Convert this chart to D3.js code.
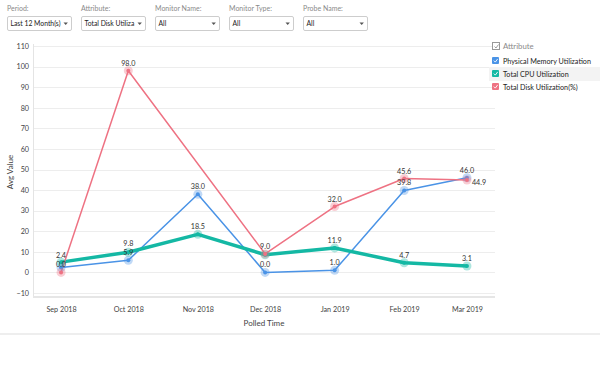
<!DOCTYPE html>
<html>
<head>
<meta charset="utf-8">
<script src="https://cdn.jsdelivr.net/npm/d3@7"></script>
<style>
  html, body { margin: 0; padding: 0; background: #fff; }
  svg { display: block; font-family: Lato, "Open Sans", "DejaVu Sans", sans-serif; }
</style>
</head>
<body>
<svg id="chart" width="600" height="375"></svg>
<script>
// ---- data ----
const months = ["2018-09-01","2018-10-01","2018-11-01","2018-12-01","2019-01-01","2019-02-01","2019-03-01"];
const seriesNames = ["Physical Memory Utilization", "Total CPU Utilization", "Total Disk Utilization(%)"];
const memoryValues = [2.4, 5.9, 38.0, 0.0, 1.0, 39.8, 46.0];
const cpuValues    = [5.0, 9.8, 18.5, 8.6, 11.9, 4.7, 3.1];
const diskValues   = [0.0, 98.0, null, 9.0, 32.0, 45.6, 44.9];
const yTicks = [-10, 0, 10, 20, 30, 40, 50, 60, 70, 80, 90, 100, 110];
const filterLabels = ["Period:", "Attribute:", "Monitor Name:", "Monitor Type:", "Probe Name:"];
const filterValues = ["Last 12 Month(s)", "Total Disk Utiliza", "All", "All", "All"];
// labels not shown (overlapping) and labels placed to the right
const hiddenLabels = ["Total CPU Utilization|0", "Total CPU Utilization|3"];
const rightLabels = ["Total Disk Utilization(%)|6"];

const colors = ["#4a93e6", "#14b8a4", "#ee7283"];
const widths = [1.5, 3.5, 1.5];

const svg = d3.select("#chart");
const parse = d3.timeParse("%Y-%m-%d");
const dates = months.map(parse);
const series = [memoryValues, cpuValues, diskValues].map((vals, i) => ({
  name: seriesNames[i], color: colors[i], width: widths[i],
  points: vals.map((v, j) => ({ date: dates[j], value: v, idx: j }))
}));

// ---- filter bar ----
const fg = svg.append("g");
filterLabels.forEach((lab, i) => {
  const x0 = 7 + i * 74;
  fg.append("text").attr("x", x0).attr("y", 11).attr("font-size", 7).attr("fill", "#8a8a8a").text(lab);
  fg.append("rect").attr("x", x0 + 0.5).attr("y", 16.5).attr("width", 64).attr("height", 14)
    .attr("rx", 1.5).attr("fill", "#fff").attr("stroke", "#cdcdcd");
  fg.append("text").attr("x", x0 + 3.5).attr("y", 26.3).attr("font-size", 6.8).attr("fill", "#222").text(filterValues[i]);
  fg.append("path").attr("d", `M${x0+56.5},22.5 l2.2,2.4 l2.2,-2.4 z`).attr("fill", "#555");
});

// ---- scales ----
const day = 24 * 3600 * 1000;
const x = d3.scaleTime()
  .domain([new Date(dates[0].getTime() - 12.5 * day), new Date(dates[6].getTime() + 12.5 * day)])
  .range([33, 495]);
const y = d3.scaleLinear().domain([-10, 110]).range([293, 46]);

// grid
const grid = svg.append("g");
grid.selectAll("line").data(yTicks).join("line")
  .attr("x1", 33).attr("x2", 495)
  .attr("y1", d => Math.round(y(d)) + 0.5).attr("y2", d => Math.round(y(d)) + 0.5)
  .attr("stroke", "#ededed");
svg.append("line").attr("x1", 33.5).attr("x2", 33.5).attr("y1", 44).attr("y2", 297).attr("stroke", "#e4e4e4");
svg.append("line").attr("x1", 33).attr("x2", 495).attr("y1", 297).attr("y2", 297).attr("stroke", "#e6e6e6").attr("stroke-width", 2);

// y axis
const yAxis = svg.append("g").attr("transform", "translate(29,0)")
  .call(d3.axisLeft(y).tickValues(yTicks).tickSize(0).tickPadding(0).tickFormat(d3.format("d")));
yAxis.select(".domain").remove();
yAxis.selectAll("text").attr("font-size", 7.2).attr("fill", "#444").attr("font-family", "Lato, sans-serif");

// x axis
const xAxis = svg.append("g").attr("transform", "translate(0,304)")
  .call(d3.axisBottom(x).tickValues(dates).tickSize(0).tickPadding(3).tickFormat(d3.timeFormat("%b %Y")));
xAxis.select(".domain").remove();
xAxis.selectAll("text").attr("font-size", 7.2).attr("fill", "#444").attr("font-family", "Lato, sans-serif");

// axis titles
svg.append("text").attr("transform", "translate(13,172) rotate(-90)").attr("text-anchor", "middle")
  .attr("font-size", 8).attr("fill", "#444").text("Avg Value");
svg.append("text").attr("x", 264).attr("y", 326).attr("text-anchor", "middle")
  .attr("font-size", 8).attr("fill", "#444").text("Polled Time");

// bottom separator
svg.append("line").attr("x1", 0).attr("x2", 600).attr("y1", 334).attr("y2", 334).attr("stroke", "#eeeeee").attr("stroke-width", 2);

// ---- lines ----
const line = d3.line().x(d => x(d.date)).y(d => y(d.value));
series.forEach(s => {
  const pts = s.points.filter(p => p.value !== null);
  svg.append("path").datum(pts).attr("d", line).attr("fill", "none")
    .attr("stroke", s.color).attr("stroke-width", s.width).attr("stroke-linejoin", "round");
});
series.forEach(s => {
  const pts = s.points.filter(p => p.value !== null);
  const g = svg.append("g");
  g.selectAll("circle.halo").data(pts).join("circle").attr("class", "halo")
    .attr("cx", d => x(d.date)).attr("cy", d => y(d.value)).attr("r", 4.5)
    .attr("fill", s.color).attr("fill-opacity", 0.35);
  g.selectAll("circle.dot").data(pts).join("circle").attr("class", "dot")
    .attr("cx", d => x(d.date)).attr("cy", d => y(d.value)).attr("r", 2)
    .attr("fill", s.color);
});

// ---- labels (simple vertical collision avoidance per date) ----
dates.forEach((dt, j) => {
  const items = [];
  series.forEach(s => {
    const p = s.points[j];
    if (p.value === null) return;
    const key = s.name + "|" + j;
    if (hiddenLabels.includes(key)) return;
    items.push({ p, right: rightLabels.includes(key) });
  });
  items.sort((a, b) => a.p.value - b.p.value);
  let prevBase = Infinity;
  items.forEach(it => {
    let bx = x(it.p.date), by, anchor = "middle";
    if (it.right) {
      bx += 5; by = y(it.p.value) + 5; anchor = "start";
    } else {
      by = y(it.p.value) - 5;
      if (by > prevBase - 9.5) by = prevBase - 9.5;
      prevBase = by;
    }
    svg.append("text").attr("x", bx).attr("y", by).attr("text-anchor", anchor)
      .attr("font-size", 7.2).attr("fill", "#333").text(d3.format(".1f")(it.p.value));
  });
});

// ---- legend ----
const lg = svg.append("g");
lg.append("rect").attr("x", 489).attr("y", 67).attr("width", 111).attr("height", 14).attr("fill", "#f3f3f3");
lg.append("rect").attr("x", 492.5).attr("y", 42.5).attr("width", 7).attr("height", 7).attr("fill", "#fff").attr("stroke", "#999");
lg.append("path").attr("d", "M494.5,46.5 l1.5,1.5 l2.5,-3.5").attr("fill", "none").attr("stroke", "#888").attr("stroke-width", 0.8);
lg.append("text").attr("x", 503).attr("y", 49).attr("font-size", 7.8).attr("fill", "#8a8a8a").text("Attribute");
seriesNames.forEach((n, i) => {
  const yy = 57 + i * 13;
  lg.append("rect").attr("x", 492).attr("y", yy).attr("width", 7).attr("height", 7).attr("rx", 1).attr("fill", colors[i]);
  lg.append("path").attr("d", `M493.8,${yy+3.6} l1.5,1.5 l2.4,-3.2`).attr("fill", "none").attr("stroke", "#fff").attr("stroke-width", 0.9);
  lg.append("text").attr("x", 503).attr("y", yy + 6.5).attr("font-size", 7.2).attr("fill", "#222").text(n);
});
</script>
</body>
</html>
